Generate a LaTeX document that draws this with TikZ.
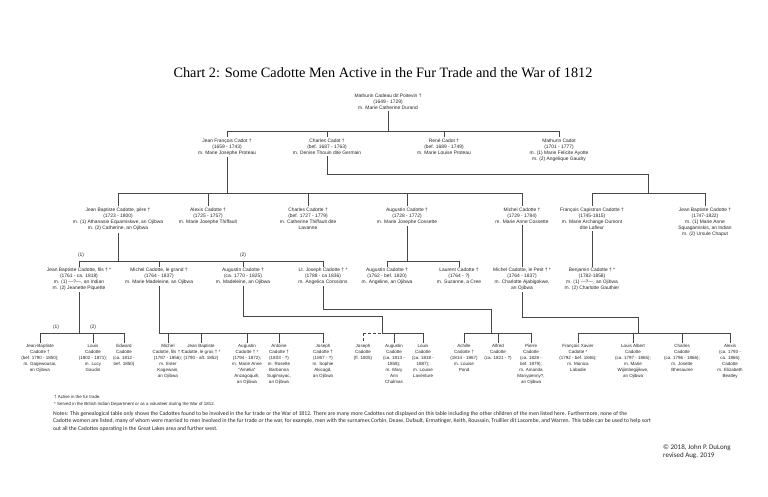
\documentclass[tikz,border=0pt]{standalone}
\usepackage{fontspec}
\setmainfont{Liberation Sans}
\newfontfamily\titlefont{Liberation Serif}
\newfontfamily\notefont{Carlito}
\begin{document}
\begin{tikzpicture}[x=1pt,y=-1pt]
\tikzset{
 person/.style={align=center,font=\fontsize{4.9}{6}\selectfont,inner sep=0pt,anchor=north,text=black!85},
 small/.style={person,font=\fontsize{4.5}{6}\selectfont},
 conn/.style={draw=black!72,line width=0.9pt},
 lbl/.style={font=\fontsize{4.9}{6}\selectfont,inner sep=0pt,text=black!85},
 note/.style={font=\notefont\fontsize{5.7}{7.6}\selectfont,inner sep=0pt,anchor=north west,align=left,text=black!85},
}
\fill[white] (0,0) rectangle (768,497);
\node[font=\titlefont\fontsize{14.3}{16}\selectfont,inner sep=0pt] (title) at (383,73) {Chart 2: Some Cadotte Men Active in the Fur Trade and the War of 1812};
% row 0
\node[person] (mc) at (388,94) {Mathurin Cadeau dit Poitevin †\\(1649 - 1729)\\m. Marie Catherine Durand};
% row 1
\node[person] (jf) at (227,139) {Jean François Cadot †\\(1659 - 1743)\\m. Marie Josephe Proteau};
\node[person] (cc) at (327,139) {Charles Cadot †\\(bef. 1687 - 1763)\\m. Denise Thouin dite Germain};
\node[person] (rc) at (444,139) {René Cadot †\\(bef. 1689 - 1749)\\m. Marie Louise Proteau};
\node[person] (mh) at (559,139) {Mathurin Cadot\\(1701 - 1777)\\m. (1) Marie Felicite Ayotte\\m. (2) Angelique Gaudry};
% row 2
\node[person] (jbp) at (118,208) {Jean Baptiste Cadotte, père †\\(1723 - 1800)\\m. (1) Athanasie Equamiskwe, an Ojibwa\\m. (2) Catherine, an Ojibwa};
\node[person] (alx) at (208,208) {Alexis Cadotte †\\(1725 - 1757)\\m. Marie Josephe Thiffault};
\node[person] (chc) at (308,208) {Charles Cadotte †\\(bef. 1727 - 1779)\\m. Catherine Thiffault dite\\Lavanne};
\node[person] (aug) at (407,208) {Augustin Cadotte †\\(1728 - 1772)\\m. Marie Josephe Cossette};
\node[person] (mic) at (522,208) {Michel Cadotte †\\(1729 - 1784)\\m. Marie Anne Cossette};
\node[person] (fcc) at (592,208) {François Capistran Cadotte †\\(1745-1815)\\m. Marie Archange Dumont\\dite Lafleur};
\node[person] (jbb) at (705,208) {Jean Baptiste Cadotte †\\(1747-1822)\\m. (1) Marie Anne\\Squagamiskis, an Indian\\m. (2) Ursule Chaput};
% row 3
\node[person] (jbf) at (79,268) {Jean Baptiste Cadotte, fils † *\\(1761 - ca. 1818)\\m. (1) —?—, an Indian\\m. (2) Jeanette Piquette};
\node[person] (mlg) at (159,268) {Michel Cadotte, le grand †\\(1764 - 1837)\\m. Marie Madeleine, an Ojibwa};
\node[person] (aub) at (243,268) {Augustin Cadotte †\\(ca. 1770 - 1825)\\m. Madeleine, an Ojibwa};
\node[person] (ljo) at (323,268) {Lt. Joseph Cadotte † *\\(1788 - ca 1836)\\m. Angelica Corssions};
\node[person] (auc) at (387,268) {Augustin Cadotte †\\(1762 - bef. 1820)\\m. Angeline, an Ojibwa};
\node[person] (lau) at (459,268) {Laurent Cadotte †\\(1764 - ?)\\m. Suzanne, a Cree};
\node[person] (mlp) at (522,268) {Michel Cadotte, le Petit † *\\(1764 - 1837)\\m. Charlotte Ajabigokwe,\\an Ojibwa};
\node[person] (ben) at (592,268) {Benjamin Cadotte † *\\(1782-1858)\\m. (1) —?—, an Ojibwa\\m. (2) Charlotte Gauthier};
% row 4
\node[small] (jbd) at (40,344) {Jean-Baptiste\\Cadotte †\\(bef. 1790 - 1850);\\m. Gagewousai,\\an Ojibwa};
\node[small] (lod) at (93,344) {Louis\\Cadotte\\(1802 - 1871);\\m. Lucy\\Gaudin};
\node[small] (edw) at (124,344) {Edward\\Cadotte\\(ca. 1812 -\\bef. 1850)};
\node[small] (mfi) at (168,344) {Michel\\Cadotte, fils † *\\(1787 - 1856);\\m. Ester\\Kagewain,\\an Ojibwa};
\node[small] (jbg) at (201,344) {Jean Baptiste\\Cadotte, le gros † *\\(1790 - aft. 1852)};
\node[small] (aud) at (247,344) {Augustin\\Cadotte † *\\(1794 - 1872);\\m. Marie Anne\\“Amelia”\\Anzagoquih,\\an Ojibwa};
\node[small] (ant) at (279,344) {Antoine\\Cadotte †\\(1803 - ?)\\m. Rosette\\Barbonna\\Sugimayac,\\an Ojibwa};
\node[small] (jod) at (323,344) {Joseph\\Cadotte †\\(1807 - ?)\\m. Sophie\\Akicagd,\\an Ojibwa};
\node[small] (jfl) at (363,344) {Joseph\\Cadotte\\(fl. 1805)};
\node[small] (aue) at (394,344) {Augustin\\Cadotte\\(ca. 1813 -\\1858);\\m. Mary\\Ann\\Chalmas};
\node[small] (loe) at (423,344) {Louis\\Cadotte\\(ca. 1818 -\\1887);\\m. Louise\\Laventure};
\node[small] (ach) at (464,344) {Achille\\Cadotte †\\(1814 - 1867)\\m. Louise\\Pond};
\node[small] (alf) at (498,344) {Alfred\\Cadotte\\(ca. 1821 - ?)};
\node[small] (pie) at (531,344) {Pierre\\Cadotte\\(ca. 1828 -\\bef. 1879);\\m. Amanda\\Manypenny?,\\an Ojibwa};
\node[small] (fxc) at (578,344) {François Xavier\\Cadotte *\\(1792 - bef. 1846);\\m. Monica\\Labadie};
\node[small] (lac) at (633,344) {Louis Albert\\Cadotte\\(ca. 1797 - 1865);\\m. Marie\\Wijimbegijikwe,\\an Ojibwa};
\node[small] (chd) at (682,344) {Charles\\Cadotte\\(ca. 1796 - 1866);\\m. Josette\\Bhesaume};
\node[small] (axd) at (730,344) {Alexis\\(ca. 1793 -\\ca. 1865)\\Cadotte\\m. Elizabeth\\Beatley};
% labels
\node[lbl] (l1) at (81,255) {(1)};
\node[lbl] (l2) at (243,255) {(2)};
\node[lbl] (l3) at (56,327) {(1)};
\node[lbl] (l4) at (93,327) {(2)};
% junction points
\coordinate (jc) at (648,193);
\coordinate (ja) at (382,333);
\coordinate (jl) at (491,333);
\coordinate (jm) at (638,333);
% connectors
\newcommand\kup[2]{\draw[conn] (#1.north |- 0,#2) -- ([yshift=1.5pt]#1.north);}
\newcommand\kdown[2]{\draw[conn] ([yshift=-1.5pt]#1.south) -- (#1.south |- 0,#2);}
\newcommand\kbar[3]{\draw[conn] (#1.north |- 0,#3) -- (#2.north |- 0,#3);}
% gen 0
\kdown{mc}{131}\kbar{jf}{mh}{131}
\foreach \c in {jf,cc,rc,mh} {\kup{\c}{131}}
% gen 1
\kdown{jf}{193}\kbar{jbp}{mic}{193}
\foreach \c in {jbp,alx,chc,aug,mic} {\kup{\c}{193}}
\draw[conn] ([yshift=-1.5pt]cc.south) |- (jc |- 0,174) -- (jc);
\kbar{fcc}{jbb}{193}\kup{fcc}{193}\kup{jbb}{193}
% gen 2
\kdown{jbp}{261}\kbar{jbf}{ljo}{261}
\foreach \c in {jbf,mlg,aub,ljo} {\kup{\c}{261}}
\kdown{aug}{261}\kbar{auc}{lau}{261}\kup{auc}{261}\kup{lau}{261}
\draw[conn] ([yshift=-1.5pt]mic.south) -- ([yshift=1.5pt]mlp.north);
\draw[conn] ([yshift=-1.5pt]fcc.south) -- ([yshift=1.5pt]ben.north);
% gen 3
\kdown{jbf}{333}\kbar{jbd}{edw}{333}
\foreach \c in {jbd,lod,edw} {\kup{\c}{333}}
\kdown{mlg}{333}\kbar{mlg}{jod}{333}
\foreach \c in {mfi,jbg,aud,ant,jod} {\kup{\c}{333}}
\draw[conn] ([yshift=-1.5pt]aub.south) |- (ja |- 0,316) -- (ja);
\draw[conn] (ja) -- (loe.north |- ja);
\kup{aue}{333}\kup{loe}{333}
\draw[conn,densely dashed] (jfl.north |- ja) -- (ja);
\draw[conn,densely dashed] (jfl.north |- ja) -- ([yshift=1.5pt]jfl.north);
\draw[conn] ([yshift=-1.5pt]ljo.south) |- (jl |- 0,309) -- (jl);
\kbar{ach}{pie}{333}
\foreach \c in {ach,alf,pie} {\kup{\c}{333}}
\draw[conn] ([yshift=-1.5pt]mlp.south) |- (jm |- 0,317) -- (jm);
\kbar{fxc}{axd}{333}
\foreach \c in {fxc,lac,chd,axd} {\kup{\c}{333}}
% footnotes and notes
\node[lbl,anchor=west,font=\fontsize{4.4}{6}\selectfont] (f1) at (54,397) {† Active in the fur trade.};
\node[lbl,anchor=west,font=\fontsize{4.4}{6}\selectfont] (f2) at (54,404) {* Served in the British Indian Department or as a volunteer during the War of 1812.};
\node[note] (notes) at (53,411) {Notes: This genealogical table only shows the Cadottes found to be involved in the fur trade or the War of 1812. There are many more Cadottes not displayed on this table including the other children of the men listed here. Furthermore, none of the\\Cadotte women are listed, many of whom were married to men involved in the fur trade or the war, for example, men with the surnames Corbin, Dease, Dufault, Ermatinger, Keith, Roussain, Truillier dit Lacombe, and Warren. This table can be used to help sort\\out all the Cadottes operating in the Great Lakes area and further west.};
\node[note,font=\notefont\fontsize{7}{8.5}\selectfont] (copy) at (663,444) {© 2018, John P. DuLong\\revised Aug. 2019};
\end{tikzpicture}
\end{document}
